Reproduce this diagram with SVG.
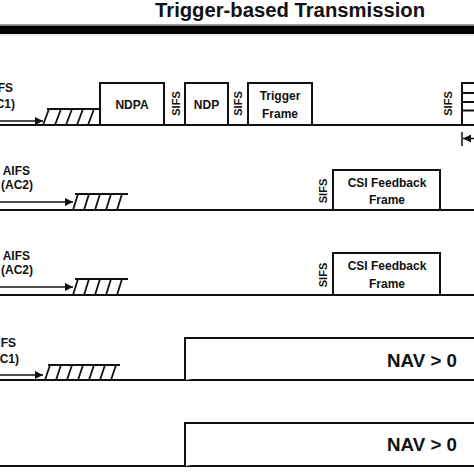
<svg xmlns="http://www.w3.org/2000/svg" width="474" height="474" viewBox="0 0 474 474">
<defs>
<style>
text{font-family:"Liberation Sans",Arial,sans-serif;font-weight:bold;fill:#111}
.t{font-size:12px}
.s{font-size:11px}
.n{font-size:19px}
.box{fill:#fff;stroke:#111;stroke-width:2}
.base{stroke:#111;stroke-width:2;fill:none}
.hatch{stroke:#111;stroke-width:1.8;fill:none}
.arr{stroke:#111;stroke-width:1.5;fill:none}
</style>
<marker id="ah" viewBox="0 0 10 10" refX="10" refY="5" markerWidth="8" markerHeight="8" markerUnits="userSpaceOnUse" orient="auto">
<path d="M0,0 L10,5 L0,10 Z" fill="#111"/>
</marker>
</defs>
<rect width="474" height="474" fill="#fff"/>
<g id="title">
<text x="155" y="16.5" style="font-size:20px" textLength="270" lengthAdjust="spacingAndGlyphs">Trigger-based Transmission</text>
<line x1="0" y1="24.5" x2="474" y2="24.5" stroke="#999" stroke-width="1"/>
<rect x="0" y="25.5" width="474" height="8.5" fill="#000"/>
<line x1="0" y1="35" x2="474" y2="35" stroke="#ddd" stroke-width="1"/>
</g>
<g id="baselines">
<line class="base" x1="0" y1="125" x2="474" y2="125"/>
<line class="base" x1="0" y1="210" x2="474" y2="210"/>
<line class="base" x1="0" y1="295" x2="474" y2="295"/>
<line class="base" x1="0" y1="380" x2="474" y2="380"/>
<line class="base" x1="0" y1="466" x2="474" y2="466"/>
</g>
<g id="row1-labels">
<text class="t" x="13" y="92" text-anchor="end">AIFS</text>
<text class="t" x="15" y="108" text-anchor="end">(AC1)</text>
</g>
<g id="row1-backoff">
<path class="hatch" d="M47,109 H100 M43,125 L49,109 M55,125 L61,109 M66,125 L72,109 M77,125 L83,109 M88,125 L94,109"/>
</g>
<g id="ndpa"><rect class="box" x="100" y="83" width="64" height="42"/><text class="t" x="132" y="108.5" text-anchor="middle">NDPA</text></g>
<g id="sifs1"><text class="s" transform="translate(180,103.5) rotate(-90)" text-anchor="middle">SIFS</text></g>
<g id="ndp"><rect class="box" x="185" y="83" width="43" height="42"/><text class="t" x="206.5" y="108.5" text-anchor="middle">NDP</text></g>
<g id="sifs2"><text class="s" transform="translate(242,103.5) rotate(-90)" text-anchor="middle">SIFS</text></g>
<g id="trigger"><rect class="box" x="248" y="83" width="64" height="42"/><text class="t" x="280" y="100" text-anchor="middle">Trigger</text><text class="t" x="280" y="118" text-anchor="middle">Frame</text></g>
<g id="sifs3"><text class="s" transform="translate(452,103.5) rotate(-90)" text-anchor="middle">SIFS</text></g>
<g id="partial-box">
<path class="box" d="M476,83 H462 V125 H476"/>
<path class="hatch" d="M462,93 H474 M462,102 H474 M462,110.5 H474"/>
</g>
<g id="row2-labels">
<text class="t" x="30" y="175" text-anchor="end">AIFS</text>
<text class="t" x="33" y="189" text-anchor="end">(AC2)</text>
</g>
<g id="row2-backoff"><path class="hatch" d="M75,194 H128 M73,210 L78,194 M84,210 L89,194 M95,210 L100,194 M106,210 L111,194 M117,210 L122,194"/></g>
<g id="sifs4"><text class="s" transform="translate(327,191) rotate(-90)" text-anchor="middle">SIFS</text></g>
<g id="csi1"><rect class="box" x="333" y="170" width="107" height="40"/><text class="t" x="387" y="187" text-anchor="middle">CSI Feedback</text><text class="t" x="387" y="204" text-anchor="middle">Frame</text></g>
<g id="row3-labels">
<text class="t" x="30" y="260" text-anchor="end">AIFS</text>
<text class="t" x="33" y="274" text-anchor="end">(AC2)</text>
</g>
<g id="row3-backoff"><path class="hatch" d="M75,279 H128 M73,295 L78,279 M84,295 L89,279 M95,295 L100,279 M106,295 L111,279 M117,295 L122,279"/></g>
<g id="sifs5"><text class="s" transform="translate(327,275) rotate(-90)" text-anchor="middle">SIFS</text></g>
<g id="csi2"><rect class="box" x="333" y="253" width="107" height="42"/><text class="t" x="387" y="270" text-anchor="middle">CSI Feedback</text><text class="t" x="387" y="288" text-anchor="middle">Frame</text></g>
<g id="row4-labels">
<text class="t" x="16" y="347" text-anchor="end">AIFS</text>
<text class="t" x="19" y="363" text-anchor="end">(AC1)</text>
</g>
<g id="row4-backoff"><path class="hatch" d="M48,365 H120 M45,380 L50,365 M56,380 L61,365 M67,380 L72,365 M78,380 L83,365 M89,380 L94,365 M100,380 L105,365 M111,380 L116,365"/></g>
<g id="nav1"><path class="box" d="M185,380 V338 H476"/><text class="n" x="387" y="367" textLength="70" lengthAdjust="spacingAndGlyphs">NAV &gt; 0</text></g>
<g id="nav2"><path class="box" d="M185,466 V423 H476"/><text class="n" x="387" y="451" textLength="70" lengthAdjust="spacingAndGlyphs">NAV &gt; 0</text></g>
<g id="connectors">
<line class="arr" x1="0" y1="121" x2="43" y2="121" marker-end="url(#ah)"/>
<line class="arr" x1="0" y1="202" x2="73" y2="202" marker-end="url(#ah)"/>
<line class="arr" x1="0" y1="287" x2="73" y2="287" marker-end="url(#ah)"/>
<line class="arr" x1="0" y1="375" x2="43" y2="375" marker-end="url(#ah)"/>
<line class="arr" x1="462" y1="132" x2="462" y2="146" stroke-width="2"/>
<line class="arr" x1="476" y1="138.5" x2="463" y2="138.5" marker-end="url(#ah)"/>
</g>
</svg>
